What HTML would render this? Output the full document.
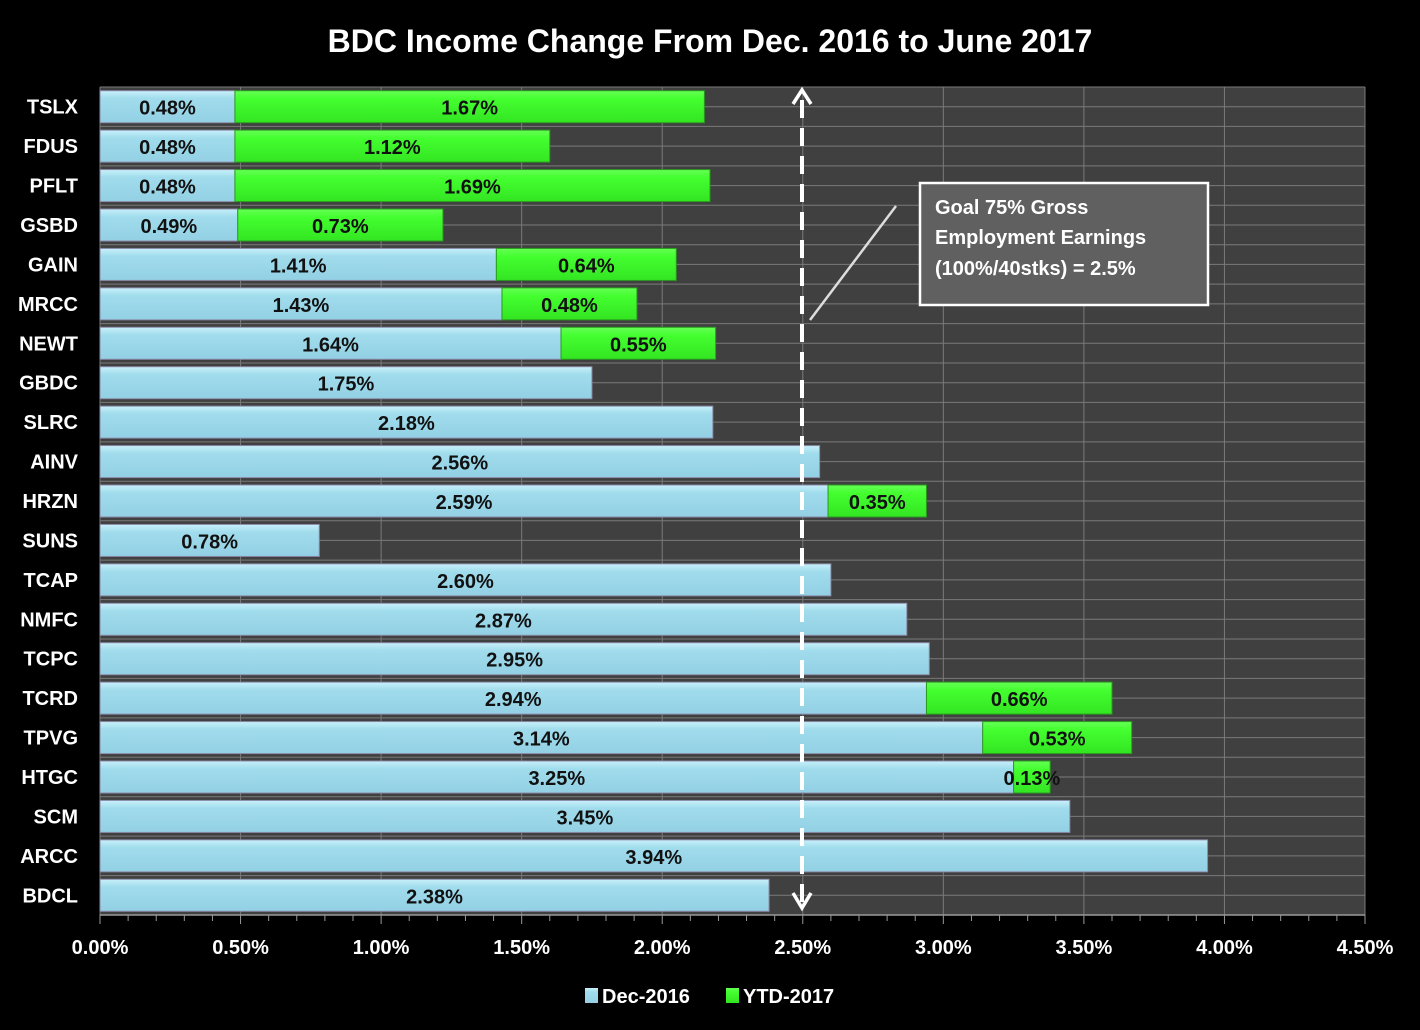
<!DOCTYPE html>
<html><head><meta charset="utf-8"><style>
html,body{margin:0;padding:0;background:#000;}
svg{display:block;font-family:"Liberation Sans",sans-serif;font-weight:bold;}
</style></head><body>
<svg id="chart" width="1420" height="1030" viewBox="0 0 1420 1030">
<defs>
<linearGradient id="gb" x1="0" y1="0" x2="0" y2="1"><stop offset="0" stop-color="#c8f0fa"/><stop offset="0.25" stop-color="#a0dcec"/><stop offset="1" stop-color="#93d0e4"/></linearGradient>
<linearGradient id="gg" x1="0" y1="0" x2="0" y2="1"><stop offset="0" stop-color="#66ff55"/><stop offset="0.25" stop-color="#44ff30"/><stop offset="1" stop-color="#33e522"/></linearGradient>
</defs>
<rect x="0" y="0" width="1420" height="1030" fill="#000"/>
<text x="710" y="52" text-anchor="middle" fill="#fff" font-size="32">BDC Income Change From Dec. 2016 to June 2017</text>
<rect x="100" y="87" width="1265" height="828" fill="#404040"/>
<g id="grid"></g>
<g id="bars"></g>
<g id="axes"></g>
<g>
<line x1="802" y1="100" x2="802" y2="906" stroke="#fff" stroke-width="4" stroke-dasharray="18,10"/>
<polyline points="793,104 802,90 811,104" fill="none" stroke="#fff" stroke-width="3.5"/>
<polyline points="793,893 802,908 811,893" fill="none" stroke="#fff" stroke-width="3.5"/>
</g>
<line x1="896" y1="206" x2="810" y2="320" stroke="#ddd" stroke-width="2.5"/>
<g>
<rect x="920" y="183" width="288" height="122" fill="#606060" stroke="#fff" stroke-width="2.5"/>
<text x="935" y="214" fill="#fff" font-size="20">Goal 75% Gross</text>
<text x="935" y="244" fill="#fff" font-size="20">Employment Earnings</text>
<text x="935" y="275" fill="#fff" font-size="20">(100%/40stks) = 2.5%</text>
</g>
<g>
<rect x="585" y="988" width="13" height="15" fill="url(#gb)"/>
<text x="602" y="1003" fill="#fff" font-size="20">Dec-2016</text>
<rect x="726" y="988" width="13" height="15" fill="url(#gg)"/>
<text x="743" y="1003" fill="#fff" font-size="20">YTD-2017</text>
</g>
</svg>
<script>
const categories = ["TSLX","FDUS","PFLT","GSBD","GAIN","MRCC","NEWT","GBDC","SLRC","AINV","HRZN","SUNS","TCAP","NMFC","TCPC","TCRD","TPVG","HTGC","SCM","ARCC","BDCL"];
const dec2016 = [0.48,0.48,0.48,0.49,1.41,1.43,1.64,1.75,2.18,2.56,2.59,0.78,2.60,2.87,2.95,2.94,3.14,3.25,3.45,3.94,2.38];
const ytd2017 = [1.67,1.12,1.69,0.73,0.64,0.48,0.55,0,0,0,0.35,0,0,0,0,0.66,0.53,0.13,0,0,0];
const xTicks = [0,0.5,1,1.5,2,2.5,3,3.5,4,4.5];

const NS="http://www.w3.org/2000/svg";
const X0=100,X1=1365,XMAX=4.5,Y0=87,Y1=915;
const band=(Y1-Y0)/categories.length;
function x(v){return X0+(X1-X0)*v/XMAX;}
function yc(i){return Y0+band*(i+0.5);}
function mk(tag,attrs,parent){const e=document.createElementNS(NS,tag);for(const k in attrs)e.setAttribute(k,attrs[k]);parent.appendChild(e);return e;}
const grid=document.getElementById('grid'),bars=document.getElementById('bars'),axes=document.getElementById('axes');
for(let k=0;k<=categories.length*2;k++){const yy=Y0+band*k/2;
 const l=mk('line',{x1:X0,x2:X1,y1:yy,y2:yy,stroke:'#7a7a7a','stroke-width':1},grid);
 
 }
xTicks.forEach(t=>{
 const l=mk('line',{x1:x(t),x2:x(t),y1:Y0,y2:Y1,stroke:'#7a7a7a','stroke-width':1},grid);
 
 
 const tx=mk('text',{x:x(t),y:954,'text-anchor':'middle',fill:'#fff','font-size':20},axes);
 tx.textContent=t.toFixed(2)+'%';
 
 
});
for(let t=0;t<=45;t++){const xx=x(t/10);
 const l=mk('line',{x1:xx,x2:xx,y1:Y1,y2:Y1+(t%5==0?9:6),stroke:'#999','stroke-width':1},axes);
 
 }
const al=mk('line',{x1:X0,x2:X1,y1:Y1,y2:Y1,stroke:'#999','stroke-width':1.5},axes);


categories.forEach((c,i)=>{
 const cy=yc(i),h=32,top=cy-h/2;
 const lt=mk('text',{x:78,y:cy+7,'text-anchor':'end',fill:'#fff','font-size':20},axes);
 lt.textContent=c;
 
 
 const b=mk('rect',{x:x(0),y:top,width:x(dec2016[i])-x(0),height:h,fill:'url(#gb)',stroke:'#8a8aa8','stroke-width':1},bars);
 
 
 const bt=mk('text',{x:(x(0)+x(dec2016[i]))/2,y:cy+8,'text-anchor':'middle',fill:'#111','font-size':20},bars);
 bt.textContent=dec2016[i].toFixed(2)+'%';
 
 
 if(ytd2017[i]>0){
  const a=dec2016[i],bb=dec2016[i]+ytd2017[i];
  const g=mk('rect',{x:x(a),y:top,width:x(bb)-x(a),height:h,fill:'url(#gg)',stroke:'#2a9a20','stroke-width':1},bars);
  
  
  const gt=mk('text',{x:(x(a)+x(bb))/2,y:cy+8,'text-anchor':'middle',fill:'#111','font-size':20},bars);
  gt.textContent=ytd2017[i].toFixed(2)+'%';
  
  
 }
});
</script>
</body></html>
